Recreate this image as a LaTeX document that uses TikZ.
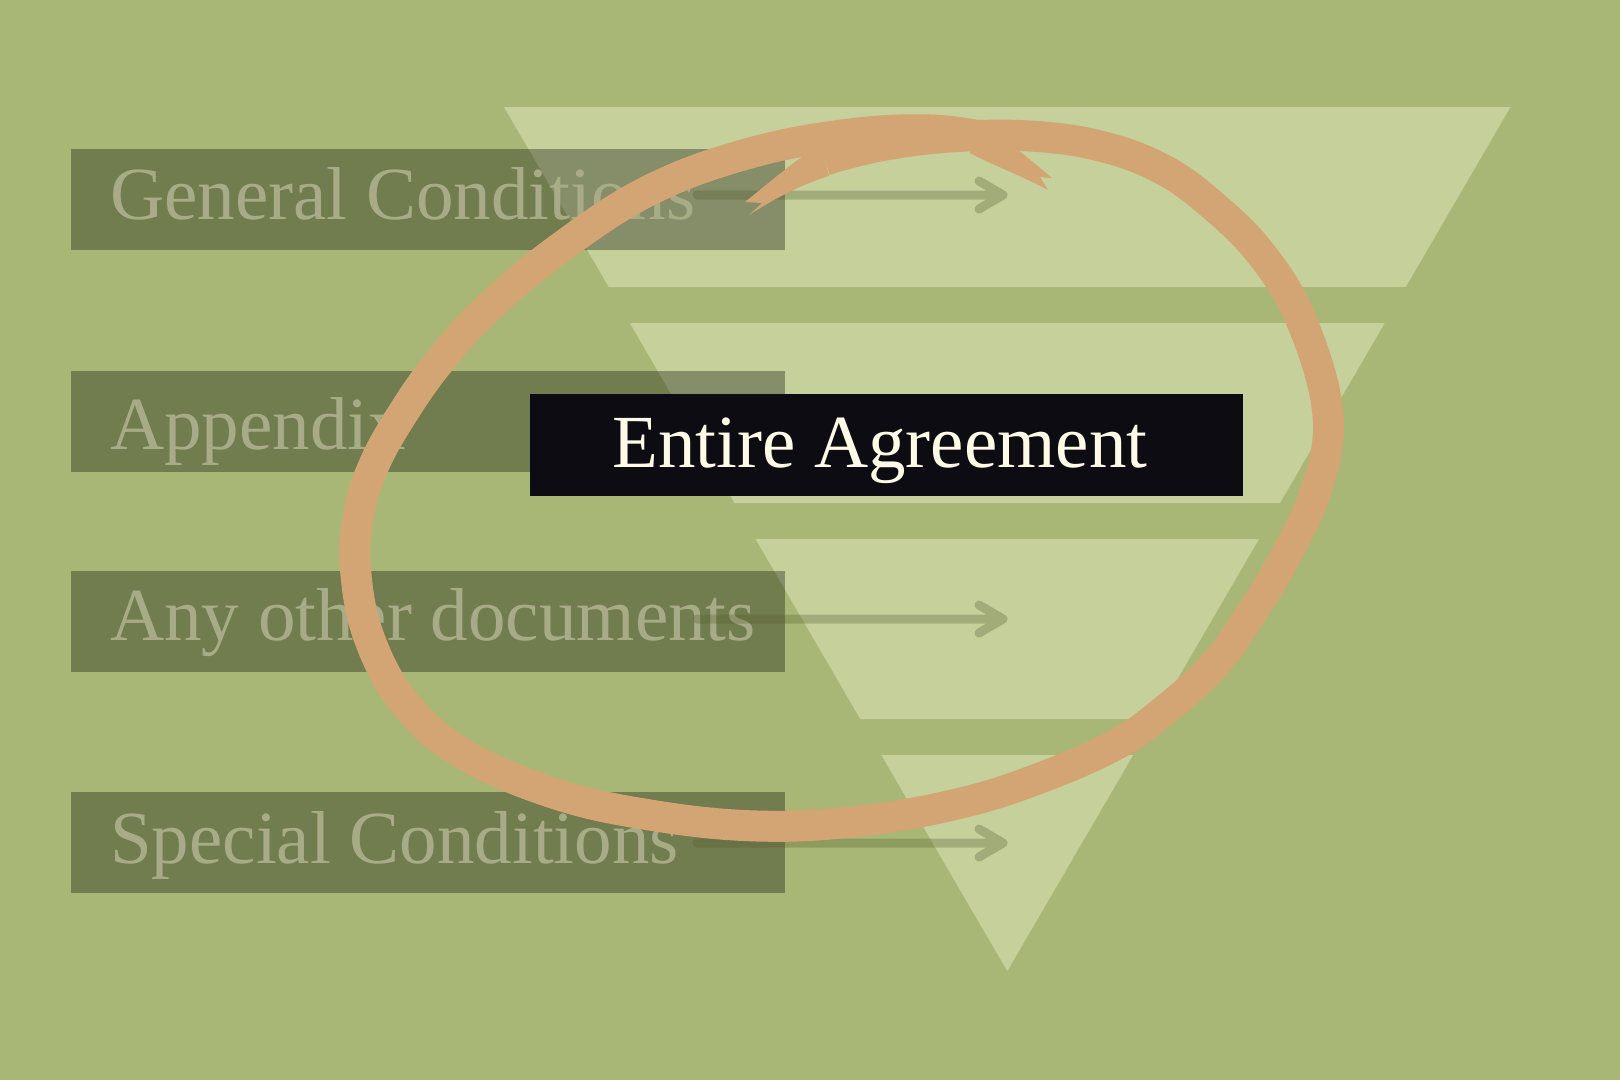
\documentclass[tikz,border=0pt]{standalone}
\usepackage{fontspec}
\setmainfont{Liberation Serif}
\definecolor{bg}{HTML}{A8B775}
\definecolor{band}{HTML}{C5D09B}
\definecolor{boxtext}{HTML}{A7AC86}
\definecolor{blackbox}{HTML}{0C0C12}
\definecolor{cream}{HTML}{FFFBE6}
\definecolor{brush}{HTML}{D4A574}
\definecolor{arrowc}{HTML}{575D30}
\begin{document}
\begin{tikzpicture}[x=1pt,y=-1pt,
  docbox/.style={fill=black, fill opacity=0.32, draw=none, minimum width=714pt, minimum height=101pt, inner sep=0pt},
  doctext/.style={text=boxtext, anchor=base west, inner sep=0pt, font=\fontsize{75}{90}\selectfont},
  flow/.style={draw=arrowc, draw opacity=0.31, line width=9pt, line cap=round, line join=round},
  bandfill/.style={fill=band},
  agreebox/.style={fill=blackbox, draw=none, minimum width=713pt, minimum height=102pt, inner sep=0pt},
  agreetext/.style={text=cream, anchor=base west, inner sep=0pt, font=\fontsize{75}{90}\selectfont},
  brushstroke/.style={draw=brush, line width=31pt, line cap=butt, line join=round},
  brushtip/.style={fill=brush, draw=none}]
\useasboundingbox (0,0) rectangle (1620,1080);
\fill[bg] (0,0) rectangle (1620,1080);
% funnel bands
\fill[bandfill] (504,107) -- (1510.5,107) -- (1405.7,287) -- (608.8,287) -- cycle;
\fill[bandfill] (629.8,323) -- (1384.7,323) -- (1280,503) -- (734.5,503) -- cycle;
\fill[bandfill] (755.5,539) -- (1259,539) -- (1154.2,719) -- (860.3,719) -- cycle;
\fill[bandfill] (881.3,755) -- (1133.2,755) -- (1007.3,971) -- cycle;
% document boxes
\node[docbox] (gcbox) at (428,199.5) {};
\node[docbox] (apbox) at (428,421.5) {};
\node[docbox] (aobox) at (428,621) {};
\node[docbox] (scbox) at (428,842) {};
\node[doctext] (gctext) at (110,219) {General Conditions};
\node[doctext] (aptext) at (110,449) {Appendix};
\node[doctext] (aotext) at (110,640) {Any other documents};
\node[doctext] (sctext) at (110,863) {Special Conditions};
% arrows
\coordinate (gcs) at (697,195);
\coordinate (gce) at (1003,195);
\coordinate (aos) at (697,619);
\coordinate (aoe) at (1003,619);
\coordinate (scs) at (697,843);
\coordinate (sce) at (1003,843);
\draw[flow] (gcs) -- (gce) ++(-24,-14) -- (gce) -- ++(-24,14);
\draw[flow] (aos) -- (aoe) ++(-24,-14) -- (aoe) -- ++(-24,14);
\draw[flow] (scs) -- (sce) ++(-24,-14) -- (sce) -- ++(-24,14);
% entire agreement
\node[agreebox] (eabox) at (886.5,445) {};
\node[agreetext] (eatext) at (612,467) {Entire Agreement};
% brush circle
\draw[brushstroke] plot[smooth, tension=0.65] coordinates {
 (825,160) (880,146) (950,137) (1030,136) (1100,146) (1160,168) (1210,203)
 (1262,255) (1302,322) (1328,415) (1316,490) (1285,557) (1250,615) (1215,664)
 (1165,710) (1115,745) (1040,778) (961,803) (860,821) (757,826) (650,815)
 (553,793) (460,752) (404,702) (370,640) (356,575) (358,517) (374,465)
 (403,413) (439,362) (486,310) (560,248) (650,190) (750,153) (850,134) (930,130) (985,137)};
\fill[brushtip] (745,202) .. controls (770,182) and (795,160) .. (821,144) -- (829,176)
  .. controls (805,183) and (775,198) .. (749,215) -- (762,203) -- cycle;
\fill[brushtip] (975,121) .. controls (1000,135) and (1025,155) .. (1052,178) -- (1040,177)
  -- (1048,190) .. controls (1020,175) and (990,164) .. (970,153) -- cycle;
\end{tikzpicture}
\end{document}
